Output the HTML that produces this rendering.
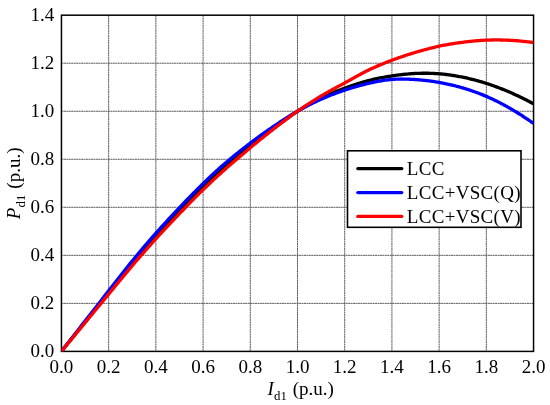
<!DOCTYPE html>
<html><head><meta charset="utf-8"><style>
html,body{margin:0;padding:0;background:#fff;}
svg{display:block;}
text{font-family:"Liberation Serif","Times New Roman",serif;font-size:19px;fill:#000;}
</style></head><body>
<svg width="550" height="405" viewBox="0 0 550 405">
<rect width="550" height="405" fill="#fff"/>
<g stroke="#5a5a5a" stroke-width="1" stroke-dasharray="2,0.45" fill="none"><line x1="108.66" y1="15.19" x2="108.66" y2="351.40"/><line x1="155.87" y1="15.19" x2="155.87" y2="351.40"/><line x1="203.08" y1="15.19" x2="203.08" y2="351.40"/><line x1="250.29" y1="15.19" x2="250.29" y2="351.40"/><line x1="297.50" y1="15.19" x2="297.50" y2="351.40"/><line x1="344.71" y1="15.19" x2="344.71" y2="351.40"/><line x1="391.92" y1="15.19" x2="391.92" y2="351.40"/><line x1="439.13" y1="15.19" x2="439.13" y2="351.40"/><line x1="486.34" y1="15.19" x2="486.34" y2="351.40"/><line x1="61.45" y1="303.37" x2="533.55" y2="303.37"/><line x1="61.45" y1="255.34" x2="533.55" y2="255.34"/><line x1="61.45" y1="207.31" x2="533.55" y2="207.31"/><line x1="61.45" y1="159.28" x2="533.55" y2="159.28"/><line x1="61.45" y1="111.25" x2="533.55" y2="111.25"/><line x1="61.45" y1="63.22" x2="533.55" y2="63.22"/></g>
<rect x="61.45" y="15.19" width="472.10" height="336.21" fill="none" stroke="#000" stroke-width="1.5"/>
<clipPath id="ax"><rect x="61.45" y="15.19" width="472.10" height="336.21"/></clipPath>
<g clip-path="url(#ax)" fill="none" stroke-width="3.3" stroke-linejoin="round" stroke-linecap="butt"><path d="M61.45,351.40 L62.63,349.93 L63.81,348.46 L64.99,346.98 L66.17,345.51 L67.35,344.04 L68.53,342.57 L69.71,341.10 L70.89,339.62 L72.07,338.15 L73.25,336.68 L74.43,335.21 L75.61,333.73 L76.79,332.26 L77.97,330.79 L79.15,329.32 L80.33,327.85 L81.51,326.37 L82.69,324.90 L83.87,323.43 L85.06,321.96 L86.24,320.49 L87.42,319.01 L88.60,317.54 L89.78,316.07 L90.96,314.60 L92.14,313.12 L93.32,311.65 L94.50,310.18 L95.68,308.71 L96.86,307.24 L98.04,305.76 L99.22,304.29 L100.40,302.82 L101.58,301.35 L102.76,299.88 L103.94,298.40 L105.12,296.93 L106.30,295.46 L107.48,293.99 L108.66,292.52 L109.84,291.04 L111.02,289.57 L112.20,288.10 L113.38,286.63 L114.56,285.17 L115.74,283.70 L116.92,282.24 L118.10,280.77 L119.28,279.31 L120.46,277.85 L121.64,276.38 L122.82,274.92 L124.00,273.47 L125.18,272.01 L126.36,270.55 L127.54,269.10 L128.72,267.65 L129.90,266.21 L131.08,264.77 L132.26,263.35 L133.45,261.94 L134.63,260.54 L135.81,259.14 L136.99,257.75 L138.17,256.37 L139.35,255.00 L140.53,253.63 L141.71,252.27 L142.89,250.91 L144.07,249.55 L145.25,248.20 L146.43,246.85 L147.61,245.50 L148.79,244.15 L149.97,242.81 L151.15,241.47 L152.33,240.14 L153.51,238.82 L154.69,237.50 L155.87,236.19 L157.05,234.89 L158.23,233.59 L159.41,232.30 L160.59,231.01 L161.77,229.73 L162.95,228.46 L164.13,227.18 L165.31,225.91 L166.49,224.65 L167.67,223.38 L168.85,222.12 L170.03,220.86 L171.21,219.60 L172.39,218.34 L173.57,217.08 L174.75,215.83 L175.93,214.58 L177.11,213.33 L178.29,212.09 L179.48,210.84 L180.66,209.61 L181.84,208.37 L183.02,207.14 L184.20,205.91 L185.38,204.69 L186.56,203.47 L187.74,202.25 L188.92,201.04 L190.10,199.83 L191.28,198.62 L192.46,197.42 L193.64,196.23 L194.82,195.03 L196.00,193.84 L197.18,192.65 L198.36,191.47 L199.54,190.29 L200.72,189.11 L201.90,187.93 L203.08,186.76 L204.26,185.59 L205.44,184.42 L206.62,183.26 L207.80,182.11 L208.98,180.96 L210.16,179.82 L211.34,178.68 L212.52,177.55 L213.70,176.42 L214.88,175.31 L216.06,174.20 L217.24,173.10 L218.42,172.00 L219.60,170.92 L220.78,169.85 L221.96,168.79 L223.14,167.73 L224.32,166.69 L225.50,165.66 L226.69,164.63 L227.87,163.61 L229.05,162.60 L230.23,161.60 L231.41,160.61 L232.59,159.62 L233.77,158.64 L234.95,157.67 L236.13,156.70 L237.31,155.74 L238.49,154.78 L239.67,153.83 L240.85,152.88 L242.03,151.94 L243.21,151.00 L244.39,150.06 L245.57,149.13 L246.75,148.19 L247.93,147.26 L249.11,146.34 L250.29,145.41 L251.47,144.50 L252.65,143.59 L253.83,142.69 L255.01,141.79 L256.19,140.90 L257.37,140.01 L258.55,139.12 L259.73,138.25 L260.91,137.37 L262.09,136.50 L263.27,135.63 L264.45,134.77 L265.63,133.91 L266.81,133.05 L267.99,132.19 L269.17,131.33 L270.35,130.48 L271.53,129.62 L272.71,128.77 L273.90,127.92 L275.08,127.06 L276.26,126.20 L277.44,125.34 L278.62,124.48 L279.80,123.62 L280.98,122.76 L282.16,121.90 L283.34,121.05 L284.52,120.19 L285.70,119.34 L286.88,118.50 L288.06,117.66 L289.24,116.82 L290.42,116.00 L291.60,115.18 L292.78,114.37 L293.96,113.57 L295.14,112.78 L296.32,112.01 L297.50,111.25 L298.68,110.50 L299.86,109.77 L301.04,109.04 L302.22,108.33 L303.40,107.62 L304.58,106.93 L305.76,106.25 L306.94,105.57 L308.12,104.91 L309.30,104.25 L310.48,103.60 L311.66,102.97 L312.84,102.34 L314.02,101.71 L315.20,101.10 L316.38,100.49 L317.56,99.89 L318.74,99.29 L319.92,98.70 L321.11,98.12 L322.29,97.54 L323.47,96.98 L324.65,96.42 L325.83,95.87 L327.01,95.33 L328.19,94.81 L329.37,94.29 L330.55,93.77 L331.73,93.27 L332.91,92.77 L334.09,92.28 L335.27,91.80 L336.45,91.32 L337.63,90.85 L338.81,90.39 L339.99,89.93 L341.17,89.48 L342.35,89.03 L343.53,88.59 L344.71,88.15 L345.89,87.71 L347.07,87.28 L348.25,86.86 L349.43,86.44 L350.61,86.03 L351.79,85.63 L352.97,85.23 L354.15,84.83 L355.33,84.45 L356.51,84.06 L357.69,83.69 L358.87,83.32 L360.05,82.96 L361.23,82.61 L362.41,82.26 L363.59,81.92 L364.77,81.59 L365.95,81.26 L367.13,80.94 L368.31,80.63 L369.50,80.33 L370.68,80.04 L371.86,79.75 L373.04,79.47 L374.22,79.20 L375.40,78.93 L376.58,78.68 L377.76,78.43 L378.94,78.19 L380.12,77.95 L381.30,77.72 L382.48,77.50 L383.66,77.28 L384.84,77.07 L386.02,76.86 L387.20,76.66 L388.38,76.47 L389.56,76.28 L390.74,76.09 L391.92,75.91 L393.10,75.73 L394.28,75.56 L395.46,75.39 L396.64,75.23 L397.82,75.07 L399.00,74.92 L400.18,74.77 L401.36,74.63 L402.54,74.50 L403.72,74.37 L404.90,74.24 L406.08,74.13 L407.26,74.02 L408.44,73.91 L409.62,73.82 L410.80,73.73 L411.98,73.65 L413.16,73.57 L414.34,73.51 L415.53,73.45 L416.71,73.40 L417.89,73.36 L419.07,73.32 L420.25,73.29 L421.43,73.26 L422.61,73.25 L423.79,73.24 L424.97,73.24 L426.15,73.24 L427.33,73.25 L428.51,73.27 L429.69,73.30 L430.87,73.33 L432.05,73.37 L433.23,73.42 L434.41,73.48 L435.59,73.54 L436.77,73.62 L437.95,73.70 L439.13,73.79 L440.31,73.88 L441.49,73.99 L442.67,74.10 L443.85,74.23 L445.03,74.36 L446.21,74.50 L447.39,74.64 L448.57,74.80 L449.75,74.96 L450.93,75.13 L452.11,75.31 L453.29,75.50 L454.47,75.69 L455.65,75.89 L456.83,76.09 L458.01,76.30 L459.19,76.52 L460.37,76.75 L461.55,76.98 L462.74,77.22 L463.92,77.46 L465.10,77.71 L466.28,77.97 L467.46,78.23 L468.64,78.50 L469.82,78.78 L471.00,79.06 L472.18,79.36 L473.36,79.65 L474.54,79.96 L475.72,80.27 L476.90,80.59 L478.08,80.92 L479.26,81.25 L480.44,81.59 L481.62,81.94 L482.80,82.29 L483.98,82.65 L485.16,83.02 L486.34,83.39 L487.52,83.77 L488.70,84.16 L489.88,84.56 L491.06,84.96 L492.24,85.37 L493.42,85.79 L494.60,86.21 L495.78,86.64 L496.96,87.08 L498.14,87.52 L499.32,87.98 L500.50,88.43 L501.68,88.90 L502.86,89.37 L504.04,89.84 L505.22,90.33 L506.40,90.82 L507.58,91.31 L508.76,91.81 L509.95,92.32 L511.13,92.83 L512.31,93.35 L513.49,93.88 L514.67,94.41 L515.85,94.95 L517.03,95.50 L518.21,96.05 L519.39,96.61 L520.57,97.17 L521.75,97.74 L522.93,98.32 L524.11,98.90 L525.29,99.49 L526.47,100.09 L527.65,100.69 L528.83,101.30 L530.01,101.92 L531.19,102.54 L532.37,103.17 L533.55,103.81" stroke="#000000"/><path d="M61.45,351.40 L62.63,349.88 L63.81,348.37 L64.99,346.85 L66.17,345.34 L67.35,343.82 L68.53,342.31 L69.71,340.79 L70.89,339.28 L72.07,337.76 L73.25,336.25 L74.43,334.73 L75.61,333.22 L76.79,331.70 L77.97,330.19 L79.15,328.67 L80.33,327.15 L81.51,325.64 L82.69,324.12 L83.87,322.61 L85.06,321.09 L86.24,319.58 L87.42,318.06 L88.60,316.55 L89.78,315.03 L90.96,313.52 L92.14,312.00 L93.32,310.49 L94.50,308.98 L95.68,307.46 L96.86,305.95 L98.04,304.44 L99.22,302.92 L100.40,301.41 L101.58,299.90 L102.76,298.39 L103.94,296.88 L105.12,295.37 L106.30,293.86 L107.48,292.34 L108.66,290.83 L109.84,289.32 L111.02,287.82 L112.20,286.31 L113.38,284.80 L114.56,283.29 L115.74,281.79 L116.92,280.28 L118.10,278.78 L119.28,277.28 L120.46,275.78 L121.64,274.28 L122.82,272.78 L124.00,271.29 L125.18,269.79 L126.36,268.30 L127.54,266.81 L128.72,265.33 L129.90,263.85 L131.08,262.39 L132.26,260.93 L133.45,259.49 L134.63,258.05 L135.81,256.62 L136.99,255.20 L138.17,253.79 L139.35,252.38 L140.53,250.98 L141.71,249.58 L142.89,248.19 L144.07,246.80 L145.25,245.41 L146.43,244.02 L147.61,242.64 L148.79,241.27 L149.97,239.90 L151.15,238.55 L152.33,237.20 L153.51,235.86 L154.69,234.53 L155.87,233.20 L157.05,231.88 L158.23,230.56 L159.41,229.26 L160.59,227.95 L161.77,226.65 L162.95,225.36 L164.13,224.07 L165.31,222.78 L166.49,221.49 L167.67,220.21 L168.85,218.92 L170.03,217.65 L171.21,216.37 L172.39,215.10 L173.57,213.84 L174.75,212.58 L175.93,211.33 L177.11,210.08 L178.29,208.83 L179.48,207.59 L180.66,206.35 L181.84,205.12 L183.02,203.89 L184.20,202.67 L185.38,201.45 L186.56,200.23 L187.74,199.02 L188.92,197.81 L190.10,196.61 L191.28,195.41 L192.46,194.21 L193.64,193.02 L194.82,191.83 L196.00,190.65 L197.18,189.46 L198.36,188.28 L199.54,187.11 L200.72,185.94 L201.90,184.77 L203.08,183.61 L204.26,182.46 L205.44,181.31 L206.62,180.16 L207.80,179.02 L208.98,177.89 L210.16,176.77 L211.34,175.65 L212.52,174.55 L213.70,173.45 L214.88,172.36 L216.06,171.27 L217.24,170.20 L218.42,169.14 L219.60,168.09 L220.78,167.04 L221.96,166.00 L223.14,164.98 L224.32,163.96 L225.50,162.95 L226.69,161.94 L227.87,160.94 L229.05,159.96 L230.23,158.97 L231.41,158.00 L232.59,157.03 L233.77,156.06 L234.95,155.10 L236.13,154.15 L237.31,153.20 L238.49,152.26 L239.67,151.32 L240.85,150.39 L242.03,149.46 L243.21,148.53 L244.39,147.60 L245.57,146.68 L246.75,145.77 L247.93,144.86 L249.11,143.95 L250.29,143.05 L251.47,142.16 L252.65,141.27 L253.83,140.39 L255.01,139.52 L256.19,138.65 L257.37,137.78 L258.55,136.92 L259.73,136.06 L260.91,135.21 L262.09,134.37 L263.27,133.53 L264.45,132.69 L265.63,131.86 L266.81,131.04 L267.99,130.22 L269.17,129.40 L270.35,128.59 L271.53,127.79 L272.71,126.98 L273.90,126.19 L275.08,125.39 L276.26,124.60 L277.44,123.82 L278.62,123.03 L279.80,122.25 L280.98,121.48 L282.16,120.71 L283.34,119.94 L284.52,119.18 L285.70,118.42 L286.88,117.67 L288.06,116.93 L289.24,116.19 L290.42,115.46 L291.60,114.74 L292.78,114.03 L293.96,113.32 L295.14,112.62 L296.32,111.93 L297.50,111.25 L298.68,110.58 L299.86,109.91 L301.04,109.26 L302.22,108.61 L303.40,107.97 L304.58,107.34 L305.76,106.71 L306.94,106.09 L308.12,105.49 L309.30,104.88 L310.48,104.29 L311.66,103.70 L312.84,103.12 L314.02,102.55 L315.20,101.98 L316.38,101.42 L317.56,100.87 L318.74,100.33 L319.92,99.79 L321.11,99.25 L322.29,98.73 L323.47,98.21 L324.65,97.71 L325.83,97.21 L327.01,96.72 L328.19,96.23 L329.37,95.76 L330.55,95.29 L331.73,94.83 L332.91,94.37 L334.09,93.93 L335.27,93.49 L336.45,93.05 L337.63,92.62 L338.81,92.20 L339.99,91.78 L341.17,91.37 L342.35,90.96 L343.53,90.56 L344.71,90.16 L345.89,89.77 L347.07,89.38 L348.25,89.00 L349.43,88.63 L350.61,88.26 L351.79,87.89 L352.97,87.53 L354.15,87.18 L355.33,86.83 L356.51,86.49 L357.69,86.16 L358.87,85.83 L360.05,85.51 L361.23,85.19 L362.41,84.88 L363.59,84.58 L364.77,84.28 L365.95,84.00 L367.13,83.72 L368.31,83.44 L369.50,83.18 L370.68,82.91 L371.86,82.65 L373.04,82.40 L374.22,82.15 L375.40,81.91 L376.58,81.67 L377.76,81.44 L378.94,81.22 L380.12,81.01 L381.30,80.80 L382.48,80.61 L383.66,80.42 L384.84,80.24 L386.02,80.07 L387.20,79.92 L388.38,79.77 L389.56,79.64 L390.74,79.51 L391.92,79.41 L393.10,79.31 L394.28,79.23 L395.46,79.17 L396.64,79.11 L397.82,79.07 L399.00,79.04 L400.18,79.03 L401.36,79.02 L402.54,79.03 L403.72,79.04 L404.90,79.07 L406.08,79.10 L407.26,79.14 L408.44,79.18 L409.62,79.24 L410.80,79.30 L411.98,79.36 L413.16,79.43 L414.34,79.50 L415.53,79.57 L416.71,79.65 L417.89,79.74 L419.07,79.83 L420.25,79.93 L421.43,80.04 L422.61,80.15 L423.79,80.27 L424.97,80.40 L426.15,80.53 L427.33,80.67 L428.51,80.81 L429.69,80.97 L430.87,81.13 L432.05,81.29 L433.23,81.47 L434.41,81.65 L435.59,81.83 L436.77,82.03 L437.95,82.23 L439.13,82.43 L440.31,82.64 L441.49,82.86 L442.67,83.09 L443.85,83.32 L445.03,83.56 L446.21,83.80 L447.39,84.05 L448.57,84.31 L449.75,84.58 L450.93,84.85 L452.11,85.13 L453.29,85.41 L454.47,85.70 L455.65,86.00 L456.83,86.31 L458.01,86.62 L459.19,86.94 L460.37,87.27 L461.55,87.61 L462.74,87.95 L463.92,88.30 L465.10,88.66 L466.28,89.02 L467.46,89.39 L468.64,89.77 L469.82,90.15 L471.00,90.54 L472.18,90.94 L473.36,91.35 L474.54,91.76 L475.72,92.18 L476.90,92.61 L478.08,93.05 L479.26,93.49 L480.44,93.95 L481.62,94.41 L482.80,94.88 L483.98,95.37 L485.16,95.86 L486.34,96.36 L487.52,96.87 L488.70,97.39 L489.88,97.92 L491.06,98.47 L492.24,99.02 L493.42,99.57 L494.60,100.14 L495.78,100.72 L496.96,101.30 L498.14,101.90 L499.32,102.50 L500.50,103.11 L501.68,103.73 L502.86,104.36 L504.04,105.00 L505.22,105.64 L506.40,106.29 L507.58,106.95 L508.76,107.62 L509.95,108.29 L511.13,108.97 L512.31,109.66 L513.49,110.36 L514.67,111.07 L515.85,111.78 L517.03,112.51 L518.21,113.24 L519.39,113.98 L520.57,114.72 L521.75,115.48 L522.93,116.24 L524.11,117.02 L525.29,117.80 L526.47,118.59 L527.65,119.38 L528.83,120.19 L530.01,121.00 L531.19,121.83 L532.37,122.66 L533.55,123.50" stroke="#0000ff"/><path d="M61.45,351.40 L62.63,349.97 L63.81,348.54 L64.99,347.11 L66.17,345.67 L67.35,344.24 L68.53,342.81 L69.71,341.38 L70.89,339.95 L72.07,338.52 L73.25,337.09 L74.43,335.66 L75.61,334.22 L76.79,332.79 L77.97,331.36 L79.15,329.93 L80.33,328.50 L81.51,327.07 L82.69,325.64 L83.87,324.21 L85.06,322.77 L86.24,321.34 L87.42,319.91 L88.60,318.48 L89.78,317.05 L90.96,315.62 L92.14,314.19 L93.32,312.76 L94.50,311.32 L95.68,309.89 L96.86,308.46 L98.04,307.03 L99.22,305.60 L100.40,304.17 L101.58,302.74 L102.76,301.30 L103.94,299.87 L105.12,298.44 L106.30,297.01 L107.48,295.58 L108.66,294.15 L109.84,292.72 L111.02,291.29 L112.20,289.86 L113.38,288.43 L114.56,287.00 L115.74,285.57 L116.92,284.15 L118.10,282.72 L119.28,281.30 L120.46,279.88 L121.64,278.45 L122.82,277.03 L124.00,275.61 L125.18,274.19 L126.36,272.77 L127.54,271.36 L128.72,269.94 L129.90,268.52 L131.08,267.11 L132.26,265.71 L133.45,264.31 L134.63,262.93 L135.81,261.55 L136.99,260.17 L138.17,258.81 L139.35,257.44 L140.53,256.09 L141.71,254.74 L142.89,253.40 L144.07,252.06 L145.25,250.72 L146.43,249.39 L147.61,248.06 L148.79,246.73 L149.97,245.41 L151.15,244.08 L152.33,242.76 L153.51,241.45 L154.69,240.14 L155.87,238.84 L157.05,237.55 L158.23,236.26 L159.41,234.98 L160.59,233.71 L161.77,232.44 L162.95,231.18 L164.13,229.92 L165.31,228.66 L166.49,227.41 L167.67,226.16 L168.85,224.91 L170.03,223.67 L171.21,222.42 L172.39,221.18 L173.57,219.93 L174.75,218.69 L175.93,217.45 L177.11,216.20 L178.29,214.96 L179.48,213.72 L180.66,212.48 L181.84,211.24 L183.02,210.01 L184.20,208.78 L185.38,207.55 L186.56,206.32 L187.74,205.10 L188.92,203.88 L190.10,202.67 L191.28,201.46 L192.46,200.26 L193.64,199.06 L194.82,197.87 L196.00,196.68 L197.18,195.50 L198.36,194.33 L199.54,193.16 L200.72,192.01 L201.90,190.85 L203.08,189.71 L204.26,188.57 L205.44,187.44 L206.62,186.31 L207.80,185.19 L208.98,184.07 L210.16,182.96 L211.34,181.85 L212.52,180.75 L213.70,179.66 L214.88,178.57 L216.06,177.48 L217.24,176.39 L218.42,175.31 L219.60,174.24 L220.78,173.16 L221.96,172.09 L223.14,171.03 L224.32,169.97 L225.50,168.91 L226.69,167.86 L227.87,166.82 L229.05,165.78 L230.23,164.74 L231.41,163.72 L232.59,162.69 L233.77,161.67 L234.95,160.65 L236.13,159.64 L237.31,158.63 L238.49,157.63 L239.67,156.63 L240.85,155.63 L242.03,154.64 L243.21,153.65 L244.39,152.66 L245.57,151.67 L246.75,150.69 L247.93,149.71 L249.11,148.73 L250.29,147.75 L251.47,146.78 L252.65,145.80 L253.83,144.83 L255.01,143.87 L256.19,142.90 L257.37,141.94 L258.55,140.98 L259.73,140.02 L260.91,139.07 L262.09,138.12 L263.27,137.17 L264.45,136.23 L265.63,135.28 L266.81,134.35 L267.99,133.41 L269.17,132.48 L270.35,131.55 L271.53,130.63 L272.71,129.71 L273.90,128.79 L275.08,127.88 L276.26,126.97 L277.44,126.06 L278.62,125.16 L279.80,124.26 L280.98,123.37 L282.16,122.48 L283.34,121.59 L284.52,120.71 L285.70,119.82 L286.88,118.94 L288.06,118.07 L289.24,117.19 L290.42,116.33 L291.60,115.46 L292.78,114.61 L293.96,113.76 L295.14,112.91 L296.32,112.08 L297.50,111.25 L298.68,110.43 L299.86,109.62 L301.04,108.81 L302.22,108.01 L303.40,107.22 L304.58,106.43 L305.76,105.65 L306.94,104.87 L308.12,104.10 L309.30,103.34 L310.48,102.58 L311.66,101.83 L312.84,101.08 L314.02,100.34 L315.20,99.61 L316.38,98.88 L317.56,98.15 L318.74,97.43 L319.92,96.72 L321.11,96.01 L322.29,95.30 L323.47,94.61 L324.65,93.92 L325.83,93.24 L327.01,92.58 L328.19,91.91 L329.37,91.26 L330.55,90.61 L331.73,89.96 L332.91,89.32 L334.09,88.68 L335.27,88.04 L336.45,87.41 L337.63,86.78 L338.81,86.15 L339.99,85.51 L341.17,84.88 L342.35,84.24 L343.53,83.60 L344.71,82.96 L345.89,82.31 L347.07,81.66 L348.25,81.01 L349.43,80.35 L350.61,79.69 L351.79,79.03 L352.97,78.37 L354.15,77.71 L355.33,77.05 L356.51,76.39 L357.69,75.74 L358.87,75.09 L360.05,74.45 L361.23,73.81 L362.41,73.18 L363.59,72.56 L364.77,71.95 L365.95,71.34 L367.13,70.75 L368.31,70.17 L369.50,69.61 L370.68,69.05 L371.86,68.50 L373.04,67.96 L374.22,67.43 L375.40,66.91 L376.58,66.39 L377.76,65.88 L378.94,65.38 L380.12,64.89 L381.30,64.40 L382.48,63.92 L383.66,63.45 L384.84,62.98 L386.02,62.51 L387.20,62.05 L388.38,61.59 L389.56,61.14 L390.74,60.69 L391.92,60.24 L393.10,59.80 L394.28,59.36 L395.46,58.93 L396.64,58.51 L397.82,58.09 L399.00,57.67 L400.18,57.27 L401.36,56.86 L402.54,56.47 L403.72,56.07 L404.90,55.68 L406.08,55.30 L407.26,54.92 L408.44,54.55 L409.62,54.18 L410.80,53.81 L411.98,53.45 L413.16,53.09 L414.34,52.73 L415.53,52.38 L416.71,52.03 L417.89,51.68 L419.07,51.34 L420.25,51.00 L421.43,50.66 L422.61,50.33 L423.79,50.00 L424.97,49.68 L426.15,49.36 L427.33,49.05 L428.51,48.74 L429.69,48.43 L430.87,48.13 L432.05,47.84 L433.23,47.55 L434.41,47.27 L435.59,46.99 L436.77,46.72 L437.95,46.46 L439.13,46.20 L440.31,45.95 L441.49,45.70 L442.67,45.47 L443.85,45.24 L445.03,45.01 L446.21,44.79 L447.39,44.58 L448.57,44.37 L449.75,44.17 L450.93,43.98 L452.11,43.78 L453.29,43.60 L454.47,43.42 L455.65,43.24 L456.83,43.07 L458.01,42.90 L459.19,42.74 L460.37,42.58 L461.55,42.42 L462.74,42.27 L463.92,42.12 L465.10,41.98 L466.28,41.83 L467.46,41.70 L468.64,41.56 L469.82,41.43 L471.00,41.31 L472.18,41.19 L473.36,41.08 L474.54,40.97 L475.72,40.86 L476.90,40.76 L478.08,40.67 L479.26,40.58 L480.44,40.49 L481.62,40.42 L482.80,40.34 L483.98,40.28 L485.16,40.22 L486.34,40.17 L487.52,40.12 L488.70,40.08 L489.88,40.04 L491.06,40.01 L492.24,39.99 L493.42,39.97 L494.60,39.96 L495.78,39.96 L496.96,39.96 L498.14,39.96 L499.32,39.97 L500.50,39.99 L501.68,40.01 L502.86,40.04 L504.04,40.07 L505.22,40.11 L506.40,40.15 L507.58,40.20 L508.76,40.25 L509.95,40.30 L511.13,40.37 L512.31,40.43 L513.49,40.51 L514.67,40.59 L515.85,40.67 L517.03,40.76 L518.21,40.85 L519.39,40.95 L520.57,41.06 L521.75,41.17 L522.93,41.28 L524.11,41.40 L525.29,41.53 L526.47,41.66 L527.65,41.80 L528.83,41.94 L530.01,42.09 L531.19,42.24 L532.37,42.40 L533.55,42.57" stroke="#ff0000"/></g>
<g><text x="61.45" y="373.1" text-anchor="middle">0.0</text><text x="108.66" y="373.1" text-anchor="middle">0.2</text><text x="155.87" y="373.1" text-anchor="middle">0.4</text><text x="203.08" y="373.1" text-anchor="middle">0.6</text><text x="250.29" y="373.1" text-anchor="middle">0.8</text><text x="297.50" y="373.1" text-anchor="middle">1.0</text><text x="344.71" y="373.1" text-anchor="middle">1.2</text><text x="391.92" y="373.1" text-anchor="middle">1.4</text><text x="439.13" y="373.1" text-anchor="middle">1.6</text><text x="486.34" y="373.1" text-anchor="middle">1.8</text><text x="533.55" y="373.1" text-anchor="middle">2.0</text><text x="54.3" y="357.10" text-anchor="end">0.0</text><text x="54.3" y="309.07" text-anchor="end">0.2</text><text x="54.3" y="261.04" text-anchor="end">0.4</text><text x="54.3" y="213.01" text-anchor="end">0.6</text><text x="54.3" y="164.98" text-anchor="end">0.8</text><text x="54.3" y="116.95" text-anchor="end">1.0</text><text x="54.3" y="68.92" text-anchor="end">1.2</text><text x="54.3" y="20.89" text-anchor="end">1.4</text></g>
<g>
<rect x="347.5" y="150.8" width="173.5" height="76.5" fill="#fff" stroke="#000" stroke-width="1.6"/>
<line x1="357.8" y1="168.6" x2="401.8" y2="168.6" stroke-linecap="round" stroke="#000" stroke-width="3.2"/>
<line x1="357.8" y1="192.6" x2="401.8" y2="192.6" stroke-linecap="round" stroke="#0000ff" stroke-width="3.2"/>
<line x1="357.8" y1="216.4" x2="401.8" y2="216.4" stroke-linecap="round" stroke="#ff0000" stroke-width="3.2"/>
<g letter-spacing="0.3"><text x="406.8" y="175.4">LCC</text>
<text x="406.8" y="199.4">LCC+VSC(Q)</text>
<text x="406.8" y="223.2">LCC+VSC(V)</text></g>
</g>
<text x="267.5" y="395"><tspan font-style="italic">I</tspan><tspan font-size="12.8px" dy="4.6" dx="0.2">d1</tspan><tspan dy="-4.6" dx="1.15"> (p.u.)</tspan></text>
<text transform="translate(20.2,219.2) rotate(-90)"><tspan font-style="italic">P</tspan><tspan font-size="12.8px" dy="4.6" dx="0.2">d1</tspan><tspan dy="-4.6" dx="1.15"> (p.u.)</tspan></text>
</svg>
</body></html>
